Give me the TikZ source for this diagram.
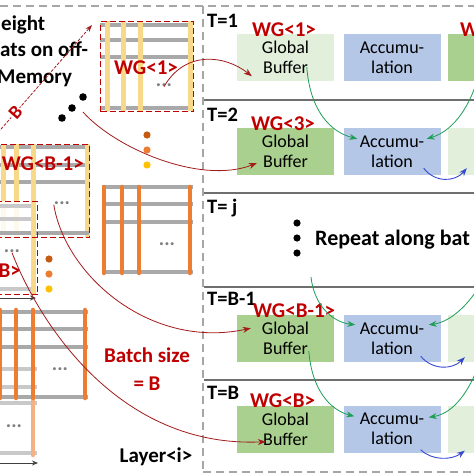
\documentclass[tikz,border=0pt]{standalone}
\usepackage{fontspec}
\setmainfont{Carlito}
\usetikzlibrary{arrows.meta,calc}
\definecolor{wgred}{HTML}{C00000}
\definecolor{curvered}{HTML}{A31B1B}
\definecolor{lgreen}{HTML}{E2EFDA}
\definecolor{mgreen}{HTML}{A9D08E}
\definecolor{accblue}{HTML}{B4C7E7}
\definecolor{barg}{HTML}{A9A9A9}
\definecolor{bargl}{HTML}{C9C9C9}
\definecolor{bary}{HTML}{F8D98A}
\definecolor{baro}{HTML}{ED7D31}
\definecolor{barol}{HTML}{F4B183}
\definecolor{dotdo}{HTML}{C55A11}
\definecolor{dotyl}{HTML}{FFC000}
\definecolor{arrgreen}{HTML}{1E9E55}
\definecolor{arrblue}{HTML}{3548D0}
\definecolor{sepgray}{HTML}{6F6F6F}
\definecolor{dashgray}{HTML}{A6A6A6}
\definecolor{dotgray}{HTML}{7F7F7F}
\begin{document}
\begin{tikzpicture}[x=1pt,y=-1pt,
  box/.style={minimum width=97pt, minimum height=47pt, inner sep=0pt, align=center, font=\fontsize{18}{20}\selectfont},
  gbL/.style={box, fill=lgreen},
  gbM/.style={box, fill=mgreen},
  accbox/.style={box, fill=accblue},
  tlabel/.style={anchor=base west, inner sep=0pt, font=\fontsize{20.5}{22}\selectfont\bfseries},
  wglabel/.style={inner sep=0pt, text=wgred, font=\fontsize{21}{24}\selectfont\bfseries},
  bigtext/.style={inner sep=0pt, font=\fontsize{21}{24}\selectfont\bfseries},
  dotsn/.style={inner sep=0pt, text=dotgray, font=\fontsize{20}{20}\selectfont\bfseries},
  dashline/.style={draw=dashgray, line width=1.6pt, dash pattern=on 8pt off 5pt},
  sepline/.style={draw=sepgray, line width=1.6pt},
  hbar/.style={draw=barg, line width=4pt},
  hbarl/.style={draw=bargl, line width=4pt},
  ybar/.style={draw=bary, line width=5pt},
  obar/.style={draw=baro, line width=4.5pt, line cap=round},
  obarl/.style={draw=barol, line width=4.5pt, line cap=round},
  frameR/.style={draw=wgred, line width=1.3pt, dash pattern=on 6pt off 3pt, inner sep=0pt, anchor=north west},
  redcurve/.style={draw=curvered, line width=0.8pt, -{Stealth[length=8pt,width=6pt]}},
  greencurve/.style={draw=arrgreen, line width=0.8pt, -{Stealth[length=8pt,width=6pt]}},
  bluecurve/.style={draw=arrblue, line width=0.9pt, -{Stealth[length=8pt,width=6pt]}},
  darkarrow/.style={draw=black!75, line width=1pt, -{Stealth[length=6pt,width=5pt]}}
]
\useasboundingbox (0,0) rectangle (474,474);
\clip (0,0) rectangle (474,474);
\fill[white] (0,0) rectangle (474,474);

% ---------- frame lines ----------
\draw[dashline] (0,6) -- (474,6);
\draw[dashline] (203,6) -- (203,474);
\draw[dashline] (203,472) -- (474,472);
\foreach \yy in {100,193,287,380} \draw[sepline] (204,\yy) -- (474,\yy);

% ---------- right panel boxes ----------
\node[gbL] (gb1) at (285.5,57.5) {Global\\Buffer};
\node[accbox] (acc1) at (392,57.5) {Accumu-\\lation};
\node[gbM] (r1) at (496.5,57.5) {};
\node[gbM] (gb2) at (285.5,151.5) {Global\\Buffer};
\node[accbox] (acc2) at (392,151.5) {Accumu-\\lation};
\node[gbL] (r2) at (496.5,151.5) {};
\node[gbM] (gbB1) at (285.5,338.5) {Global\\Buffer};
\node[accbox] (accB1) at (392,338.5) {Accumu-\\lation};
\node[gbL] (rB1) at (496.5,338.5) {};
\node[gbM] (gbB) at (285.5,429) {Global\\Buffer};
\node[accbox] (accB) at (392,429) {Accumu-\\lation};
\node[gbL] (rB) at (496.5,429) {};

% T labels
\node[tlabel] (t1) at (207,27) {T=1};
\node[tlabel] (t2) at (207,121) {T=2};
\node[tlabel] (tj) at (207,213) {T= j};
\node[tlabel] (tB1) at (207,305) {T=B-1};
\node[tlabel] (tB) at (207,399) {T=B};

% WG labels on right
\node[wglabel, anchor=base west] (wgr1) at (252,36) {WG<1>};
\node[wglabel, anchor=base west] (wgr3) at (251,130) {WG<3>};
\node[wglabel, anchor=base west] (wgrB1) at (253,317) {WG<B-1>};
\node[wglabel, anchor=base west] (wgrB) at (250,407) {WG<B>};
\node[wglabel, anchor=base west] (wgr2) at (460,36) {W};

% repeat
\foreach \yy in {223,238,253} \fill[black] (297,\yy) circle (3.6pt);
\node[bigtext, anchor=base west, font=\fontsize{22}{24}\selectfont\bfseries] (rep) at (315,245) {Repeat along bat};

% ---------- left: WG<1> matrix ----------
\foreach \yy in {25,40,57,108} \draw[hbar] (100,\yy) -- (193,\yy);
\foreach \xx in {107,123,140,190} \draw[ybar] (\xx,21) -- (\xx,111);
\node[frameR, minimum width=93pt, minimum height=90pt] (m1) at (100,21) {};
\node[wglabel, anchor=base] (wg1) at (146,74) {WG<1>};
\node[dotsn] (d1) at (164,85) {...};

% ---------- WG<B-1> matrix ----------
\foreach \yy in {147,165,182} \draw[hbar] (-5,\yy) -- (89,\yy);
\foreach \xx in {3,16,33,87} \draw[ybar] (\xx,144) -- (\xx,237);
\fill[white, opacity=0.85] (-5,201) rectangle (31,294);
\foreach \yy in {206,219,289} \draw[hbarl] (-5,\yy) -- (35,\yy);
\draw[hbar] (-5,233) -- (89,233);
\draw[ybar] (33,201) -- (33,294);
\node[frameR, minimum width=94pt, minimum height=93pt] (mB1) at (-5,144) {};
\node[frameR, minimum width=42pt, minimum height=93pt] (mB) at (-5,201) {};
\node[wglabel, anchor=base east] (wgB1) at (84,170) {WG<B-1>};
\node[dotsn] (dB1) at (62,203) {...};
\node[wglabel, anchor=base east] (wgB) at (21,277) {WG<B>};
\node[dotsn] (dB) at (12,251) {...};

% colored dots
\fill[dotdo] (147,135) circle (3.6pt);
\fill[baro] (147,150) circle (3.6pt);
\fill[dotyl] (147,165) circle (3.6pt);
\fill[dotdo] (49,259) circle (3.6pt);
\fill[baro] (49,274) circle (3.6pt);
\fill[dotyl] (49,289) circle (3.6pt);

% black diagonal dots
\fill[black] (62,118) circle (3.8pt);
\fill[black] (72,108) circle (3.8pt);
\fill[black] (83,97) circle (3.8pt);

% ---------- orange matrix right ----------
\foreach \yy in {187,204,222,272} \draw[hbar] (102,\yy) -- (193,\yy);
\foreach \xx in {104,122,139,190} \draw[obar] (\xx,187) -- (\xx,273);
\node[dotsn] (dO) at (167,244) {...};

% ---------- orange matrix lower left ----------
\foreach \yy in {369,387,403,453} \draw[hbarl] (-5,\yy) -- (37,\yy);
\foreach \yy in {312,329,347,397} \draw[hbar] (-5,\yy) -- (88,\yy);
\draw[obarl] (33,310) -- (33,455);
\foreach \xx in {0,16,33,85} \draw[obar] (\xx,310) -- (\xx,398);
\node[dotsn] (dL1) at (60,369) {...};
\node[dotsn] (dL2) at (14,426) {...};
\coordinate (la1) at (-5,298);
\coordinate (la2) at (-5,463);
\draw[darkarrow] (la1) -- (36,298);
\draw[darkarrow] (la2) -- (38,463);

% left texts
\node[bigtext, anchor=base west] (tx1) at (1,30) {eight};
\node[bigtext, anchor=base west] (tx2) at (0,56) {ats on off-};
\node[bigtext, anchor=base west] (tx3) at (-3,83) {Memory};
\node[wglabel, anchor=base] (bs1) at (147,362) {Batch size};
\node[wglabel, anchor=base] (bs2) at (147,390) {= B};
\node[bigtext, anchor=base] (lay) at (156,462) {Layer<i>};

% B dashed arrow
\coordinate (bst) at (-5,136);
\draw[draw=curvered, line width=0.8pt, dash pattern=on 3pt off 1.5pt, -{Stealth[length=7pt,width=5pt]}]
  (bst) -- node[pos=0.21, sloped, fill=white, inner sep=1pt, text=wgred, font=\fontsize{19}{20}\selectfont\bfseries] {B} ($(m1.north west)+(-8,4)$);

% ---------- red curves ----------
\draw[redcurve] (d1.south) .. controls (185,50) and (225,55) .. ($(gb1.south west)+(15,-5)$);
\coordinate (dk) at (83,112);
\draw[redcurve] (dk) .. controls (115,148) and (200,185) .. ($(gb2.south west)+(20,-12)$);
\draw[redcurve] (dB1.south west) .. controls (65,275) and (150,350) .. ($(gbB1.south west)+(14,-34)$);
\draw[redcurve] (dB.south) .. controls (40,325) and (120,448) .. ($(gbB.south west)+(29,-11)$);

% ---------- green curves ----------
\draw[greencurve] ($(gb1.south west)+(70,-14)$) .. controls (310,110) and (330,132) .. ($(acc2.north west)+(14,11)$);
\draw[greencurve] ($(r1.south west)+(30,-3)$) .. controls (468,112) and (450,132) .. ($(acc2.north east)+(-14,11)$);
\coordinate (jL) at (311,277);
\coordinate (jR) at (478,288);
\draw[greencurve] (jL) .. controls (314,305) and (332,322) .. ($(accB1.north west)+(12,10)$);
\draw[greencurve] (jR) .. controls (468,305) and (450,322) .. ($(accB1.north east)+(-12,10)$);
\draw[greencurve] ($(gbB1.south west)+(72,-11)$) .. controls (312,390) and (330,410) .. ($(accB.north west)+(11,11)$);
\draw[greencurve] ($(rB1.south west)+(30,5)$) .. controls (466,398) and (450,414) .. ($(accB.north east)+(-12,12)$);

% ---------- blue curves ----------
\draw[bluecurve] ($(acc2.south east)+(-17,-7)$) .. controls (435,183) and (455,182) .. ($(r2.south west)+(19,-7)$);
\draw[bluecurve] ($(accB1.south east)+(-20,-6)$) .. controls (432,370) and (452,370) .. ($(rB1.south west)+(17,-5)$);
\draw[bluecurve] ($(accB.south east)+(-20,-3)$) .. controls (432,461) and (452,460) .. ($(rB.south west)+(17,-2)$);
\end{tikzpicture}
\end{document}
